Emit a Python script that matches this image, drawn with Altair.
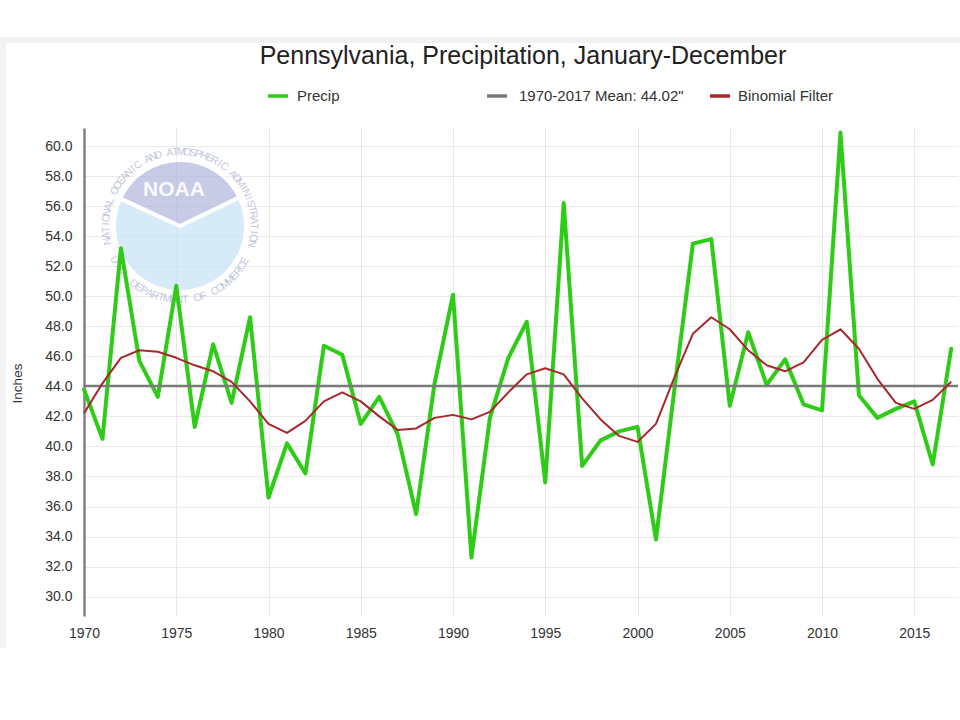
import math
import altair as alt
import pandas as pd

# Annual precipitation for Pennsylvania (inches), 1970-2017
years = list(range(1970, 2018))
precip = [43.8, 40.5, 53.2, 45.7, 43.3, 50.7, 41.3, 46.8, 42.9, 48.6,
          36.6, 40.2, 38.2, 46.7, 46.1, 41.5, 43.3, 40.8, 35.5, 44.2,
          50.1, 32.6, 41.9, 45.9, 48.3, 37.6, 56.2, 38.7, 40.4, 41.0,
          41.3, 33.8, 43.8, 53.5, 53.8, 42.7, 47.6, 44.1, 45.8, 42.8,
          42.4, 60.9, 43.4, 41.9, 42.5, 43.0, 38.8, 46.5]
binomial = [42.2, 44.2, 45.9, 46.4, 46.3, 45.9, 45.4, 45.0, 44.3, 43.0,
            41.5, 40.9, 41.7, 43.0, 43.6, 43.0, 42.0, 41.1, 41.2, 41.9,
            42.1, 41.8, 42.3, 43.6, 44.8, 45.2, 44.8, 43.2, 41.8, 40.7,
            40.3, 41.5, 44.6, 47.5, 48.6, 47.8, 46.4, 45.4, 45.0, 45.6,
            47.1, 47.8, 46.5, 44.5, 42.9, 42.5, 43.1, 44.3]
mean_value = 44.02

title_text = "Pennsylvania, Precipitation, January-December"
legend_labels = ["Precip", "1970-2017 Mean: 44.02\"", "Binomial Filter"]
legend_colors = ["#2fcc17", "#7a7a7a", "#a8272d"]
x_ticks = list(range(1970, 2016, 5))
y_ticks = list(range(30, 61, 2))
seal_top = "NATIONAL OCEANIC AND ATMOSPHERIC ADMINISTRATION"
seal_bottom = "U.S. DEPARTMENT OF COMMERCE"

GREEN, GREY, RED = legend_colors
FONT = "Liberation Sans"
W, H = 874, 488

df = pd.DataFrame({"year": years, "precip": precip, "binomial": binomial})
one = pd.DataFrame({"k": [0]})

x_enc = alt.X(
    "year:Q",
    scale=alt.Scale(domain=[1970, 2017.37], nice=False, zero=False),
    axis=alt.Axis(values=x_ticks, format="d", title=None, grid=True,
                  gridColor="#e9e9e9", gridWidth=1, domain=False, ticks=False,
                  labelPadding=10, labelFontSize=14, labelColor="#333333",
                  labelFont=FONT, labelFlush=False, labelOverlap=False),
)
y_scale = alt.Scale(domain=[28.71, 61.2], nice=False, zero=False)
y_axis = alt.Axis(values=y_ticks, format=".1f", title="Inches", grid=True,
                  gridColor="#e9e9e9", gridWidth=1, domain=True,
                  domainColor="#808080", domainWidth=2.5, ticks=False,
                  labelPadding=12, labelFontSize=14, labelColor="#333333",
                  labelFont=FONT, labelFlush=False, labelOverlap=False,
                  titleFont=FONT, titleFontSize=13.5,
                  titleFontWeight="normal", titleColor="#333333",
                  titleX=-67, titleY=255, titleAngle=270,
                  titleAlign="center", titleBaseline="middle")

# light frame around the chart panel
frame_top = alt.Chart(one).mark_rect(color="#f2f2f2").encode(
    x=alt.value(-84), x2=alt.value(876), y=alt.value(-91), y2=alt.value(-85))
frame_left = alt.Chart(one).mark_rect(color="#f2f2f2").encode(
    x=alt.value(-84), x2=alt.value(-78), y=alt.value(-91), y2=alt.value(520))

# NOAA watermark: two-tone disc, name and ring lettering
logo_cx, logo_cy, logo_r = 96, 98, 66
logo_low = alt.Chart(one).mark_arc(
    radius=logo_r, color="#c7e2f5", opacity=0.7, stroke="white", strokeWidth=4
).encode(x=alt.value(logo_cx), y=alt.value(logo_cy),
         theta=alt.value(1.12), theta2=alt.value(2 * math.pi - 1.14))
logo_high = alt.Chart(one).mark_arc(
    radius=logo_r, color="#b0b6db", opacity=0.7, stroke="white", strokeWidth=4
).encode(x=alt.value(logo_cx), y=alt.value(logo_cy),
         theta=alt.value(2 * math.pi - 1.14), theta2=alt.value(2 * math.pi + 1.12))
logo_text = alt.Chart(one).mark_text(
    text="NOAA", font=FONT, fontSize=21, fontWeight="bold", color="white",
    opacity=0.9
).encode(x=alt.value(90), y=alt.value(62))


def ring_letters(text, start, end, radius, upright_bottom):
    rows = []
    n = len(text)
    for i, ch in enumerate(text):
        a = start + (end - start) * (i + 0.5) / n
        r = math.radians(a)
        rot = (a - 180.0) if upright_bottom else a
        rows.append({"ch": ch,
                     "px": logo_cx + radius * math.sin(r),
                     "py": logo_cy - radius * math.cos(r),
                     "rot": rot % 360})
    return rows


ring = pd.DataFrame(ring_letters(seal_top, -104, 106, 74, False)
                    + ring_letters(seal_bottom, 245, 116, 74, True))
logo_ring = alt.Chart(ring).mark_text(
    font=FONT, fontSize=10.5, color="#b4bad6", opacity=0.8,
    align="center", baseline="middle"
).encode(x=alt.X("px:Q", scale=None), y=alt.Y("py:Q", scale=None),
         angle=alt.Angle("rot:Q", scale=None), text="ch:N")

base = alt.Chart(df).encode(x=x_enc)

precip_line = base.mark_line(color=GREEN, strokeWidth=4, strokeJoin="round",
                             strokeCap="round").encode(
    y=alt.Y("precip:Q", scale=y_scale, axis=y_axis))
filter_line = base.mark_line(color=RED, strokeWidth=2, strokeJoin="round").encode(
    y=alt.Y("binomial:Q", scale=y_scale, axis=y_axis))

mean_rule = alt.Chart(pd.DataFrame({"mean": [mean_value]})).mark_rule(
    color=GREY, strokeWidth=2.5).encode(
    y=alt.Y("mean:Q", scale=y_scale, axis=y_axis),
    x=alt.value(0), x2=alt.value(W))

title = alt.Chart(one).mark_text(
    text=title_text, font=FONT, fontSize=25, color="#222222",
    align="center", baseline="alphabetic"
).encode(x=alt.value(439), y=alt.value(-64))

# legend built from swatches and labels
swatch_x = [184, 403, 626]
label_x = [213, 435, 654]
legend_layers = []
for lbl, col, sx, lx in zip(legend_labels, legend_colors, swatch_x, label_x):
    legend_layers.append(
        alt.Chart(one).mark_rule(color=col, strokeWidth=3.5).encode(
            x=alt.value(sx), x2=alt.value(sx + 20), y=alt.value(-32)))
    legend_layers.append(
        alt.Chart(one).mark_text(text=lbl, font=FONT, fontSize=15,
                                 color="#333333", align="left",
                                 baseline="middle").encode(
            x=alt.value(lx), y=alt.value(-32)))

chart = alt.layer(
    frame_top, frame_left, logo_low, logo_high, logo_text, logo_ring,
    precip_line, mean_rule, filter_line, title, *legend_layers
).properties(
    width=W, height=H,
    autosize=alt.AutoSizeParams(type="none"),
    padding={"left": 84, "top": 128, "right": 2, "bottom": 104},
    background="white",
).configure_view(stroke=None).configure_axis(labelOverlap=False)

chart.save("out.html", embed_options={"renderer": "svg", "actions": False})
